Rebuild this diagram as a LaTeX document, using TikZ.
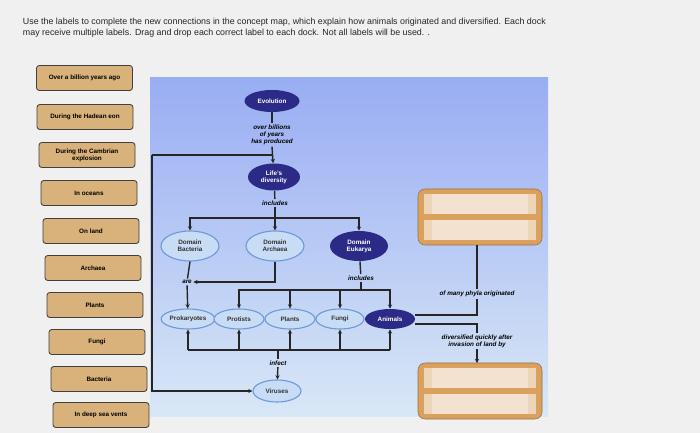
\documentclass[tikz,border=0pt]{standalone}
\usepackage{fontspec}
\setmainfont{Liberation Sans}
\usetikzlibrary{arrows.meta,shapes.geometric}
\definecolor{tan}{HTML}{D8B27A}
\definecolor{navy}{HTML}{2B2A86}
\definecolor{panel}{HTML}{BFD8F0}
\definecolor{lfill}{HTML}{C9DCF5}
\definecolor{ldraw}{HTML}{6E9AD8}
\definecolor{dock}{HTML}{D9A05E}
\definecolor{bar}{HTML}{F2E2CF}
\begin{document}
\begin{tikzpicture}[x=0.025cm,y=-0.025cm,
  lab/.style={draw=black!75,line width=0.6pt,rounded corners=2pt,fill=tan,minimum width=96*0.025cm,minimum height=25*0.025cm,font=\fontsize{4.5}{5}\selectfont\bfseries,align=center},
  dk/.style={ellipse,fill=navy,text=white,font=\fontsize{4.5}{5}\selectfont\bfseries,align=center,inner sep=0.5pt},
  lt/.style={ellipse,draw=ldraw,line width=0.8pt,fill=lfill,text=black!80,font=\fontsize{4.5}{5}\selectfont\bfseries,align=center,inner sep=0.5pt},
  it/.style={font=\fontsize{4.5}{5}\selectfont\bfseries\itshape,align=center,inner sep=1pt},
  ln/.style={line width=1pt,black!85},
  ar/.style={ln,-{Stealth[length=3pt,width=3pt]}}]
\useasboundingbox (0,0) rectangle (700,433);
\fill[gray!12] (0,0) rectangle (700,433);
\shade[top color=panel!80!blue,bottom color=panel!60!white] (150,78) rectangle (548,416);
\node[anchor=north west,font=\fontsize{6.3}{7.6}\selectfont,align=left,text=black!85] at (18,13) {Use the labels to complete the new connections in the concept map, which explain how animals originated and diversified. Each dock\\may receive multiple labels. Drag and drop each correct label to each dock. Not all labels will be used. .};
% left labels
\node[lab] (l1) at (84.5,78) {Over a billion years ago};
\node[lab] (l2) at (85,117) {During the Hadean eon};
\node[lab] (l3) at (87,155) {During the Cambrian\\explosion};
\node[lab] (l4) at (89,193) {In oceans};
\node[lab] (l5) at (91,231) {On land};
\node[lab] (l6) at (93,268) {Archaea};
\node[lab] (l7) at (95,305) {Plants};
\node[lab] (l8) at (97,342) {Fungi};
\node[lab] (l9) at (99,379) {Bacteria};
\node[lab] (l10) at (101,415) {In deep sea vents};
% nodes
\node[dk,minimum width=55*0.025cm,minimum height=22*0.025cm] (evo) at (272,101) {Evolution};
\node[dk,minimum width=52*0.025cm,minimum height=27*0.025cm] (life) at (274,177) {Life's\\diversity};
\node[lt,minimum width=58*0.025cm,minimum height=30*0.025cm] (bac) at (190,246) {Domain\\Bacteria};
\node[lt,minimum width=58*0.025cm,minimum height=30*0.025cm] (arc) at (275,246) {Domain\\Archaea};
\node[dk,minimum width=58*0.025cm,minimum height=30*0.025cm] (euk) at (359,246) {Domain\\Eukarya};
\node[lt,minimum width=52*0.025cm,minimum height=20*0.025cm] (pro) at (188,319) {Prokaryotes};
\node[lt,minimum width=50*0.025cm,minimum height=20*0.025cm] (prt) at (239,319) {Protists};
\node[lt,minimum width=50*0.025cm,minimum height=20*0.025cm] (pla) at (290,319) {Plants};
\node[lt,minimum width=48*0.025cm,minimum height=20*0.025cm] (fun) at (340,319) {Fungi};
\node[dk,minimum width=50*0.025cm,minimum height=20*0.025cm] (ani) at (390,319) {Animals};
\node[lt,minimum width=48*0.025cm,minimum height=22*0.025cm] (vir) at (277,391) {Viruses};
% text labels
\node[it] (t1) at (272,135) {over billions\\of years\\has produced};
\node[it] (t2) at (275,203) {includes};
\node[it] (t3) at (187,282) {are};
\node[it] (t4) at (361,278) {includes};
\node[it] (t5) at (278,363) {infect};
\node[it] (t6) at (477,294) {of many phyla originated};
\node[it] (t7) at (477,341) {diversified quickly after\\invasion of land by};
% docks
\foreach \n/\y in {d1/189,d2/363}{
  \fill[dock,rounded corners=5pt,draw=dock!70!black,line width=0.4pt] (418,\y) rectangle (542,\y+56);
  \fill[bar!80!dock] (424,\y+5) rectangle (536,\y+25);
  \fill[bar!80!dock] (424,\y+31) rectangle (536,\y+51);
  \fill[bar] (432,\y+5) rectangle (528,\y+25);
  \fill[bar] (432,\y+31) rectangle (528,\y+51);
}
\coordinate (d1) at (477,245);
\coordinate (d2) at (477,363);
% connectors
\draw[ln] (evo) -- (t1);
\coordinate (c0) at (152,155);
\draw[ar] (t1.south) -- (life);
\draw[ln] (c0) -- (t1.south |- c0);
\draw[ar] (c0) |- (vir);
\draw[ln] (life) -- (t2);
\coordinate (b1) at (275,218);
\draw[ln] (t2) -- (b1);
\draw[ar] (b1) -| (bac.north);
\draw[ar] (b1) -- (arc);
\draw[ar] (b1) -| (euk.north);
\draw[ln] (bac.south) -- (t3);
\draw[ar] (t3) -- (pro);
\draw[ar] (arc.south) |- (t3.east);
\draw[ln] (euk) -- (t4);
\coordinate (b2) at (361,290);
\draw[ln] (t4) -- (b2);
\draw[ar] (b2) -| (prt.north);
\draw[ar] (b2) -| (pla.north);
\draw[ar] (b2) -| (fun.north);
\draw[ar] (b2) -| (ani.north);
\coordinate (b3) at (278,350);
\draw[ln] (pro.south |- b3) -- (ani.south |- b3);
\foreach \n in {pro,prt,pla,fun,ani} \draw[ar] (\n.south |- b3) -- (\n.south);
\draw[ln] (b3) -- (t5);
\draw[ar] (t5) -- (vir);
\draw[ln] (ani.east |- 0,315) -- (477,315) -- (t6.south);
\draw[ln] (t6.north) -- (d1);
\draw[ln] (ani.east |- 0,324) -- (477,324) -- (t7.north);
\draw[ar] (t7.south) -- (d2);
\end{tikzpicture}
\end{document}
